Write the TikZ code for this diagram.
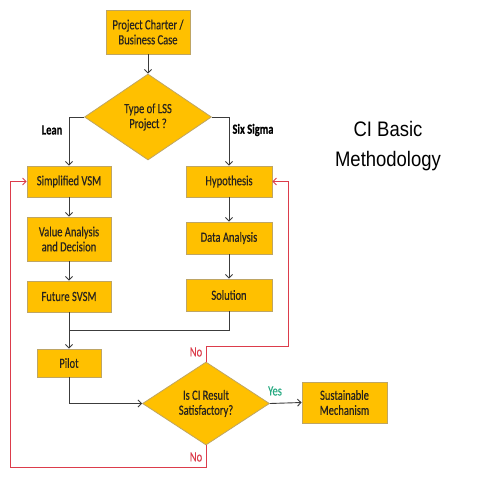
\documentclass[tikz,border=0pt]{standalone}
\usepackage{fontspec}
\setmainfont{Carlito}[FakeStretch=0.75,FakeBold=0.4]
\newfontfamily\titlefont{Liberation Sans}[FakeStretch=0.88]
\usetikzlibrary{shapes.geometric,arrows.meta}
\definecolor{boxfill}{RGB}{255,192,0}
\definecolor{boxline}{RGB}{190,165,100}
\definecolor{linegray}{RGB}{60,60,60}
\definecolor{loopred}{RGB}{220,60,75}
\definecolor{yesgreen}{RGB}{40,170,130}
\definecolor{txt}{RGB}{40,35,30}
\begin{document}
\begin{tikzpicture}[x=1pt,y=-1pt,
  stepbox/.style={draw=boxline,line width=0.8pt,fill=boxfill,rectangle,inner sep=0pt,align=center,font=\fontsize{14}{15}\selectfont,text=txt},
  decide/.style={draw=boxline,line width=0.8pt,fill=boxfill,diamond,inner sep=0pt,align=center,font=\fontsize{14}{15}\selectfont,text=txt},
  conn/.style={draw=linegray,line width=0.9pt,-{Straight Barb[length=3.5pt,width=7pt]}},
  plain/.style={draw=linegray,line width=0.9pt},
  redconn/.style={draw=loopred,line width=0.8pt,-{Straight Barb[length=3.5pt,width=7pt]}},
  lbl/.style={font=\fontsize{14}{15}\selectfont}]
\useasboundingbox[fill=white] (0,0) rectangle (480,480);
\node[stepbox,minimum width=84pt,minimum height=44pt] (pc) at (148,32) {Project Charter /\\Business Case};
\node[decide,minimum width=127pt,minimum height=86pt] (d1) at (148,117) {Type of LSS\\Project ?};
\node[stepbox,minimum width=84pt,minimum height=31pt] (svsm) at (69,181.5) {Simplified VSM};
\node[stepbox,minimum width=86pt,minimum height=31pt] (hyp) at (229,181.5) {Hypothesis};
\node[stepbox,minimum width=84pt,minimum height=44pt] (va) at (69,239) {Value Analysis\\and Decision};
\node[stepbox,minimum width=86pt,minimum height=32pt] (da) at (229,238) {Data Analysis};
\node[stepbox,minimum width=84pt,minimum height=31pt] (fsvsm) at (69,296.5) {Future SVSM};
\node[stepbox,minimum width=86pt,minimum height=32pt] (sol) at (229,295) {Solution};
\node[stepbox,minimum width=64pt,minimum height=28pt] (pilot) at (69,363) {Pilot};
\node[decide,minimum width=127pt,minimum height=83pt] (d2) at (206,403.5) {Is CI Result\\Satisfactory?};
\node[stepbox,minimum width=85pt,minimum height=41pt] (sm) at (344.5,402.5) {Sustainable\\Mechanism};
\node[lbl,font=\bfseries\fontsize{14}{15}\selectfont] (lean) at (52,130) {Lean};
\node[lbl,font=\bfseries\fontsize{14}{15}\selectfont] (six) at (253,130) {Six Sigma};
\node[lbl,text=loopred] (no1) at (196,352) {No};
\node[lbl,text=loopred] (no2) at (196,457) {No};
\node[lbl,text=yesgreen] (yes) at (275,391) {Yes};
\node[font=\titlefont\fontsize{21}{30}\selectfont,align=center] (title) at (388,146.5) {CI Basic\\Methodology};
\coordinate (m) at (69,330);
\coordinate (r1) at (288,346);
\coordinate (r2) at (10,467);
\draw[conn] (pc) -- (d1);
\draw[conn] (d1.west) -| (svsm.north);
\draw[conn] (d1.east) -| (hyp.north);
\draw[conn] (svsm) -- (va);
\draw[conn] (va) -- (fsvsm);
\draw[conn] (hyp) -- (da);
\draw[conn] (da) -- (sol);
\draw[conn] (fsvsm.south) -- (pilot.north);
\draw[plain] (sol.south) |- (m);
\draw[conn] (pilot.south) |- (d2.west);
\draw[conn] (d2.east) -- (sm.west);
\draw[redconn] (d2.north) |- (r1) |- (hyp.east);
\draw[redconn] (d2.south) |- (r2) |- (svsm.west);
\end{tikzpicture}
\end{document}
